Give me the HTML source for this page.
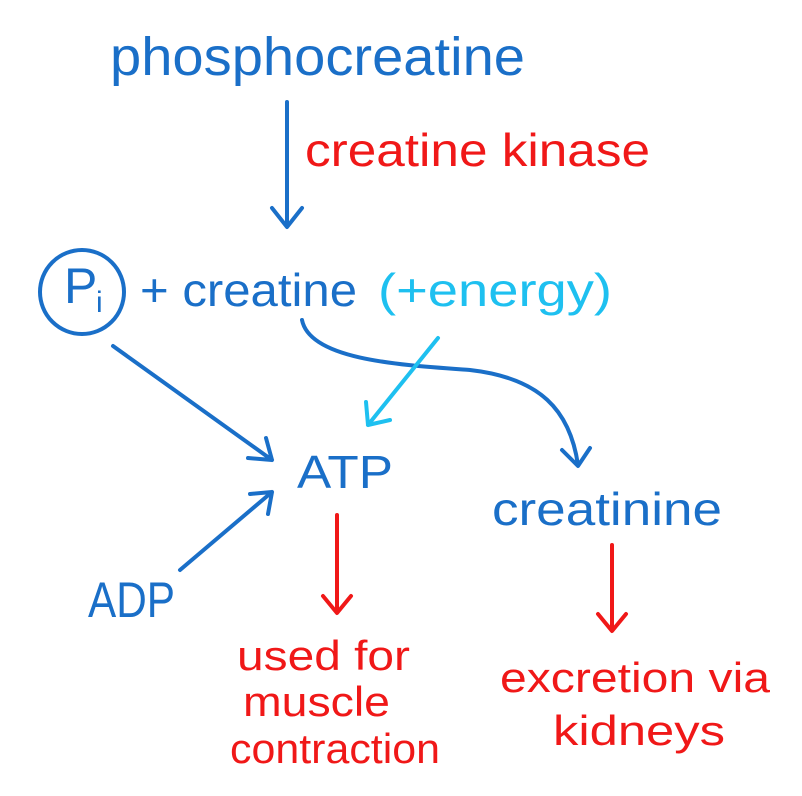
<!DOCTYPE html>
<html><head><meta charset="utf-8"><style>html,body{margin:0;padding:0;background:#fff}svg{display:block}</style></head>
<body>
<svg width="802" height="796" viewBox="0 0 802 796" xmlns="http://www.w3.org/2000/svg" font-family="Liberation Sans, sans-serif">
<g fill="#1a6fc8">
<text x="110" y="75" font-size="54" textLength="415" lengthAdjust="spacingAndGlyphs">phosphocreatine</text>
<text x="140" y="306" font-size="46" textLength="217" lengthAdjust="spacingAndGlyphs">+ creatine</text>
<text x="297" y="488" font-size="46" textLength="96" lengthAdjust="spacingAndGlyphs">ATP</text>
<text x="492" y="525" font-size="46" textLength="230" lengthAdjust="spacingAndGlyphs">creatinine</text>
<text x="88" y="617" font-size="50" textLength="87" lengthAdjust="spacingAndGlyphs">ADP</text>
<text x="64" y="303" font-size="50">P</text>
<text x="96" y="312" font-size="30">i</text>
</g>
<text x="378" y="306" font-size="46" fill="#1ec0f0" textLength="234" lengthAdjust="spacingAndGlyphs">(+energy)</text>
<g fill="#f01818">
<text x="305" y="166" font-size="46" textLength="345" lengthAdjust="spacingAndGlyphs">creatine kinase</text>
<text x="237" y="670" font-size="42" textLength="173" lengthAdjust="spacingAndGlyphs">used for</text>
<text x="243" y="716" font-size="42" textLength="147" lengthAdjust="spacingAndGlyphs">muscle</text>
<text x="230" y="763" font-size="42" textLength="210" lengthAdjust="spacingAndGlyphs">contraction</text>
<text x="500" y="692" font-size="42" textLength="270" lengthAdjust="spacingAndGlyphs">excretion via</text>
<text x="553" y="745" font-size="42" textLength="172" lengthAdjust="spacingAndGlyphs">kidneys</text>
</g>
<g fill="none" stroke-linecap="round" stroke-linejoin="round" stroke-width="4">
<g stroke="#1a6fc8">
<circle cx="82" cy="292" r="42"/>
<path d="M287 102 L287 226 M272 208 L287 227 L302 208"/>
<path d="M113 346 L272 460 M248 458 L272 460 L266 438"/>
<path d="M180 570 L272 492 M250 494 L272 492 L268 514"/>
<path d="M302 320 C310 360 400 365 470 370 C540 378 570 410 578 465 M562 450 L578 466 L590 448"/>
</g>
<path stroke="#1ec0f0" d="M438 338 L368 425 M366 402 L368 425 L390 420"/>
<g stroke="#f01818">
<path d="M337 515 L337 612 M323 596 L337 613 L351 596"/>
<path d="M612 545 L612 630 M598 614 L612 631 L626 614"/>
</g>
</g>
</svg>
</body></html>
